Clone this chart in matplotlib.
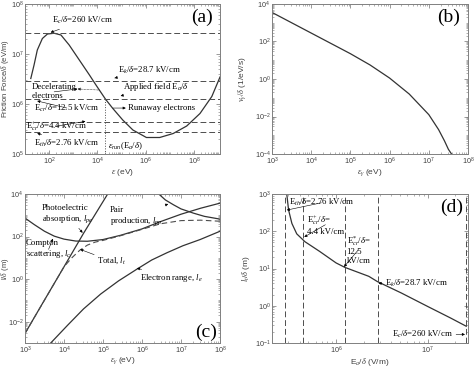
import numpy as np
import matplotlib.pyplot as plt
from matplotlib.ticker import LogLocator, NullFormatter

plt.rcParams['font.family'] = ['Liberation Sans', 'DejaVu Sans']
plt.rcParams['mathtext.fontset'] = 'custom'
plt.rcParams['mathtext.rm'] = 'Liberation Serif'
plt.rcParams['mathtext.it'] = 'Liberation Serif:italic'

# ---- (a) friction force vs electron energy (log10 values)
fric_logE = [1.24, 1.375, 1.51, 1.72, 1.93, 2.21, 2.49, 2.83, 3.25, 3.67, 3.94, 4.33,
             4.64, 5.05, 5.47, 6.03, 6.58, 7.14, 7.70, 8.25, 8.74, 9.08]
fric_logF = [6.51, 6.78, 7.08, 7.31, 7.40, 7.415, 7.38, 7.18, 6.88, 6.58, 6.38, 6.10,
             5.91, 5.68, 5.48, 5.33, 5.33, 5.41, 5.56, 5.81, 6.15, 6.54]
fields_kVcm = [260, 28.7, 12.5, 4.4, 2.76]
eps_run = 2.1e4
applied_field = 12.5e5

# ---- (b) photon emission rate
nu_logE = [3.0, 4.0, 5.0, 5.5, 6.0, 6.5, 7.0, 7.25, 7.4, 7.5, 7.58]
nu_logv = [3.55, 2.45, 1.35, 0.75, 0.05, -0.8, -1.9, -2.7, -3.3, -3.75, -4.0]

# ---- (c) lengths
pe_logE = [3.0, 3.5, 4.0, 4.5, 5.12]
pe_logl = [-2.55, -0.98, 0.58, 2.15, 4.0]
c_logE = [3.0, 3.24, 3.5, 3.75, 4.0, 4.3, 4.6, 5.0, 5.45, 6.0, 6.47, 7.0, 7.5, 8.0]
c_logl = [2.87, 2.56, 2.25, 2.02, 1.88, 1.79, 1.78, 1.86, 2.06, 2.36, 2.70, 3.05, 3.33, 3.57]
pp_logE = [6.43, 6.6, 6.81, 7.0, 7.32, 7.6, 8.0]
pp_logl = [4.0, 3.72, 3.49, 3.3, 3.10, 2.95, 2.82]
t_logE = [3.0, 4.0, 4.2, 4.4, 4.6, 4.8, 5.0, 5.45, 6.0, 6.47, 7.0, 7.5, 8.0]
t_logl = [-2.55, 0.58, 1.0, 1.35, 1.6, 1.74, 1.82, 2.04, 2.34, 2.6, 2.75, 2.77, 2.72]
e_logE = [3.66, 4.09, 4.5, 4.94, 5.4, 5.87, 6.25, 6.64, 7.05, 7.49, 8.0]
e_logl = [-3.0, -2.17, -1.4, -0.70, -0.08, 0.47, 0.9, 1.24, 1.57, 1.86, 2.25]

# ---- (d) avalanche length vs field
lt_logE = [5.462, 5.482, 5.518, 5.571, 5.66, 5.82, 6.0, 6.096, 6.357, 6.45, 6.714, 7.0, 7.25, 7.42]
lt_logl = [3.0, 2.57, 2.21, 1.93, 1.72, 1.46, 1.15, 1.03, 0.79, 0.65, 0.34, -0.02, -0.33, -0.55]

p = lambda v: 10 ** np.array(v)
LC = '0.2'
SERIF = ['Liberation Serif', 'DejaVu Serif']
fs = 6.3


def style(ax, xt, yt, ylx):
    ax.set_xscale('log')
    ax.set_yscale('log')
    ax.set_xticks(xt)
    ax.set_yticks(yt)
    for a in (ax.xaxis, ax.yaxis):
        a.set_minor_locator(LogLocator(base=10, subs=np.arange(1, 10), numticks=100))
        a.set_minor_formatter(NullFormatter())
    ax.tick_params(which='both', direction='in', top=True, right=True,
                   colors='0.45', labelcolor='0.25', labelsize=5.2, pad=1.2)
    ax.tick_params(which='major', length=3, width=0.5)
    ax.tick_params(which='minor', length=1.5, width=0.4)
    for s in ax.spines.values():
        s.set_color('0.5')
        s.set_linewidth(0.7)
    ax.xaxis.set_label_coords(0.5, -0.085)
    ax.yaxis.set_label_coords(ylx, 0.5)


def note(ax, txt, xy, xytext, ha='left', va='center'):
    ax.annotate(txt, xy=xy, xytext=xytext, fontsize=fs, family=SERIF, ha=ha, va=va,
                arrowprops=dict(arrowstyle='-|>', lw=0.4, color='k', mutation_scale=4,
                                shrinkA=0, shrinkB=0))


fig = plt.figure(figsize=(4.74, 3.69), dpi=100)
ax_a = fig.add_axes([25 / 474, 1 - 154 / 369, 195 / 474, 150 / 369])
ax_b = fig.add_axes([272 / 474, 1 - 154 / 369, 196 / 474, 150 / 369])
ax_c = fig.add_axes([25 / 474, 1 - 343 / 369, 195 / 474, 149 / 369])
ax_d = fig.add_axes([272 / 474, 1 - 343 / 369, 196 / 474, 149 / 369])

# (a)
ax = ax_a
ax.plot(p(fric_logE), p(fric_logF), color=LC, lw=0.9)
for f in fields_kVcm:
    ax.axhline(f * 1e5, color='0.3', lw=0.7, ls=(0, (6, 3)))
ax.plot([eps_run, eps_run], [1e5, applied_field], color='0.3', lw=0.7, ls=':')
ax.set_xlim(10, 1.2e9)
ax.set_ylim(1e5, 1e8)
ax.set_xlabel(r'$\epsilon$ (eV)', fontsize=6, color='0.25')
ax.set_ylabel(r'Friction Force/$\delta$ (eV/m)', fontsize=5.5, color='0.25')
style(ax, [1e2, 1e4, 1e6, 1e8], [1e5, 1e6, 1e7, 1e8], -0.072)
note(ax, r'E$_c$/$\delta$=260 kV/cm', (115, 2.7e7), (135, 4.6e7))
note(ax, r'E$_k$/$\delta$=28.7 kV/cm', (5.1e4, 3.3e6), (6.8e4, 4.8e6))
note(ax, 'Decelerating\nelectrons', (1.5e3, 2.0e6), (19, 1.75e6))
ax.annotate('', xy=(1.5e3, 2.0e6), xytext=(1.2e4, 1.9e6),
            arrowprops=dict(arrowstyle='-|>', lw=0.4, color='k', ls=':', mutation_scale=4,
                            shrinkA=0, shrinkB=0))
note(ax, r'Applied field E$_a$/$\delta$', (9.1e4, 1.45e6), (1.1e5, 2.2e6))
note(ax, r'E$_{cr}$/$\delta$=12.5 kV/cm', (32, 1.15e6), (24, 8.3e5))
ax.annotate('', xy=(1.5e5, 8.3e5), xytext=(4.4e4, 8.3e5),
            arrowprops=dict(arrowstyle='-|>', lw=0.4, color='k', mutation_scale=4,
                            shrinkA=0, shrinkB=0))
ax.text(1.85e5, 8.3e5, 'Runaway electrons', fontsize=fs, family=SERIF, va='center')
note(ax, r'E$^{+}_{cr}$/$\delta$=4.4 kV/cm', (3.2e3, 4.5e5), (10.5, 3.6e5))
note(ax, r'E$_{th}$/$\delta$=2.76 kV/cm', (32, 2.6e5), (24, 1.65e5))
ax.text(2.7e4, 1.45e5, r'$\epsilon_{run}$(E$_a$/$\delta$)', fontsize=fs, family=SERIF, va='center')
ax.text(0.91, 0.91, '(a)', transform=ax.transAxes, fontsize=14, family=SERIF,
        ha='center', va='center')

# (b)
ax = ax_b
ax.plot(p(nu_logE), p(nu_logv), color=LC, lw=0.9)
ax.set_xlim(1e3, 1e8)
ax.set_ylim(1e-4, 1e4)
ax.set_xlabel(r'$\epsilon_\gamma$ (eV)', fontsize=6, color='0.25')
ax.set_ylabel(r'$\nu_\gamma/\delta$ (1/eV/s)', fontsize=6, color='0.25')
style(ax, [1e3, 1e4, 1e5, 1e6, 1e7, 1e8], [1e-4, 1e-2, 1e0, 1e2, 1e4], -0.12)
ax.text(0.90, 0.91, '(b)', transform=ax.transAxes, fontsize=14, family=SERIF,
        ha='center', va='center')

# (c)
ax = ax_c
ax.plot(p(pe_logE), p(pe_logl), color=LC, lw=0.9)
ax.plot(p(c_logE), p(c_logl), color=LC, lw=0.9)
ax.plot(p(pp_logE), p(pp_logl), color=LC, lw=0.9)
ax.plot(p(t_logE), p(t_logl), color='0.3', lw=0.8, ls=(0, (5, 3)))
ax.plot(p(e_logE), p(e_logl), color=LC, lw=0.9)
ax.set_xlim(1e3, 1e8)
ax.set_ylim(1e-3, 1e4)
ax.set_xlabel(r'$\epsilon_\gamma$ (eV)', fontsize=6, color='0.25')
ax.set_ylabel(r'l/$\delta$ (m)', fontsize=5.5, color='0.25')
style(ax, [1e3, 1e4, 1e5, 1e6, 1e7, 1e8], [1e-2, 1e0, 1e2, 1e4], -0.072)
note(ax, 'Photoelectric\nabsorption, $l_{pe}$', (3.0e4, 1.5e2), (2.7e3, 1.05e3))
note(ax, 'Pair\nproduction, $l_{pp}$', (4.7e6, 3.4e3), (1.5e5, 8.5e2))
note(ax, 'Compton\nscattering, $l_c$', (5.2e3, 80), (1.05e3, 25))
note(ax, 'Total, $l_t$', (2.6e4, 25), (7.0e4, 7.0))
note(ax, 'Electron range, $l_e$', (7.4e5, 3.3), (9.0e5, 1.1))
ax.text(0.93, 0.07, '(c)', transform=ax.transAxes, fontsize=14, family=SERIF,
        ha='center', va='center')

# (d)
ax = ax_d
ax.plot(p(lt_logE), p(lt_logl), color=LC, lw=0.9)
for f in fields_kVcm:
    ax.axvline(f * 1e5, color='0.3', lw=0.7, ls=(0, (6, 3)))
ax.set_xlim(2e5, 2.75e7)
ax.set_ylim(1e-1, 1e3)
ax.set_xlabel(r'E$_a$/$\delta$ (V/m)', fontsize=6, color='0.25')
ax.set_ylabel(r'$l_t$/$\delta$ (m)', fontsize=6, color='0.25')
style(ax, [1e6, 1e7], [1e-1, 1e0, 1e1, 1e2, 1e3], -0.1)
note(ax, r'E$_{th}$/$\delta$=2.76 kV/cm', (2.9e5, 3.7e2), (3.05e5, 5.8e2))
note(ax, 'E$^{+}_{cr}$/$\\delta$=\n4.4 kV/cm', (4.5e5, 70), (4.8e5, 1.5e2))
note(ax, 'E$^{*}_{cr}$/$\\delta$=\n12.5\nkV/cm', (1.22e6, 11), (1.3e6, 32))
note(ax, r'E$_k$/$\delta$=28.7 kV/cm', (2.9e6, 4.0), (3.4e6, 4.0))
note(ax, r'E$_c$/$\delta$=260 kV/cm', (2.55e7, 0.17), (1.9e7, 0.17), ha='right')
ax.text(0.914, 0.913, '(d)', transform=ax.transAxes, fontsize=14, family=SERIF,
        ha='center', va='center')

fig.savefig('out.png', dpi=100)
